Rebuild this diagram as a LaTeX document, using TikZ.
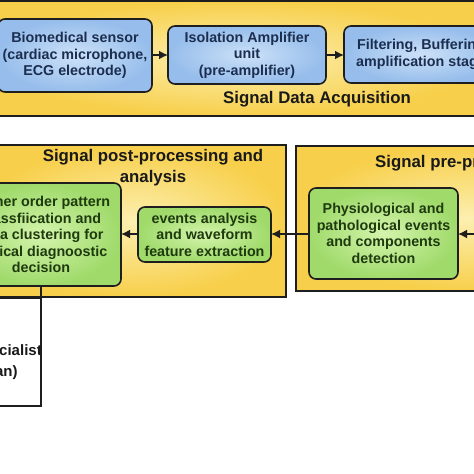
\documentclass[tikz,border=0pt]{standalone}
\usepackage{fontspec}
\setmainfont{Liberation Sans}
\usetikzlibrary{arrows.meta}
\definecolor{panelin}{HTML}{FCEFB0}
\definecolor{panelout}{HTML}{F7CF4A}
\definecolor{bluein}{HTML}{CCE1F8}
\definecolor{blueout}{HTML}{96BDEB}
\definecolor{greenin}{HTML}{D4F4AC}
\definecolor{greenout}{HTML}{9FDA6A}
\definecolor{edgecol}{HTML}{1E1E1E}
\definecolor{bluetext}{HTML}{1B2E50}
\definecolor{greentext}{HTML}{1E3A0E}
\begin{document}
\begin{tikzpicture}[x=1pt,y=-1pt,
  panel/.style={draw=edgecol, line width=1.8pt, inner sep=0pt, outer sep=0pt,
    rectangle, inner color=panelin, outer color=panelout},
  boxbase/.style={draw=edgecol, line width=1.6pt, rounded corners=7pt,
    font=\bfseries\fontsize{14.3}{16.5}\selectfont, align=center,
    inner sep=0pt, outer sep=0pt},
  bluebox/.style={boxbase, inner color=bluein, outer color=blueout, text=bluetext},
  greenbox/.style={boxbase, inner color=greenin, outer color=greenout, text=greentext},
  whitebox/.style={draw=edgecol, line width=1.6pt, fill=white, inner sep=0pt, outer sep=0pt},
  title/.style={font=\bfseries\fontsize{16.8}{21}\selectfont, text=black!90,
    align=center, inner sep=0pt},
  spectext/.style={font=\bfseries\fontsize{15}{21}\selectfont, text=black!90,
    align=center, inner sep=0pt},
  arr/.style={draw=edgecol, line width=1.9pt, -{Latex[length=9pt,width=9pt]}},
  conn/.style={draw=edgecol, line width=1.6pt}
]
\useasboundingbox (0,0) rectangle (474,474);
\clip (0,0) rectangle (474,474);
\fill[white] (0,0) rectangle (474,474);

% panels
\node[panel, minimum width=500pt, minimum height=115pt] (ptop) at (237,58.5) {};
\node[panel, minimum width=306pt, minimum height=152pt] (pleft) at (133,221) {};
\node[panel, minimum width=344pt, minimum height=145pt] (pright) at (468,218.5) {};

% panel titles
\node[title] (tacq) at (317,99) {Signal Data Acquisition};
\node[title] (tpost) at (153,167.5) {Signal post-processing and\\analysis};
\node[title, anchor=west] (tpre) at (375,163) {Signal pre-processing};

% top row boxes
\node[bluebox, minimum width=154pt, minimum height=73pt] (bio) at (75,55.5)
  {Biomedical sensor\\(cardiac microphone,\\ECG electrode)};
\node[bluebox, minimum width=158pt, minimum height=58pt] (iso) at (247,55)
  {Isolation Amplifier\\unit\\(pre-amplifier)};
\node[bluebox, minimum width=154pt, minimum height=57pt] (filt) at (421,54.5)
  {Filtering, Buffering\\amplification stage};

% lower boxes
\node[greenbox, minimum width=160pt, minimum height=103pt] (cls) at (41,234.5)
  {Higher order pattern\\classfiication and\\data clustering for\\clinical diagnoostic\\decision};
\node[greenbox, minimum width=133pt, minimum height=55pt] (evt) at (204.5,234.5)
  {events analysis\\and waveform\\feature extraction};
\node[greenbox, minimum width=149pt, minimum height=91pt] (phys) at (383.5,233.5)
  {Physiological and\\pathological events\\and components\\detection};

% specialist box
\node[whitebox, minimum width=126pt, minimum height=108pt] (spec) at (-22,352) {};
\node[spectext] (spect) at (-22,362.5) {Medical specialist\\(physician)};

% connectors
\coordinate (rin) at (485,234);
\draw[arr] (bio.east |- 0,55) -- (iso.west);
\draw[arr] (iso.east) -- (filt.west |- iso.east);
\draw[arr] (rin) -- (phys.east |- rin);
\draw[arr] (phys.west |- 0,234) -- (evt.east |- 0,234);
\draw[arr] (evt.west |- 0,234) -- (cls.east |- 0,234);
\draw[conn] (cls.south) -- (spec.north east);
\end{tikzpicture}
\end{document}
